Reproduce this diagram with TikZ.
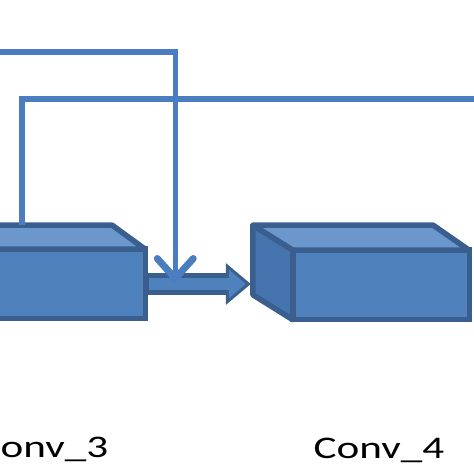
\documentclass[tikz,border=0pt]{standalone}
\usepackage{fontspec}
\setmainfont{Carlito}
\usetikzlibrary{positioning,calc,arrows.meta}

\definecolor{boxblue}{HTML}{4F81BD}
\definecolor{boxedge}{HTML}{3A5F8F}
\definecolor{boxtop}{HTML}{6C97CD}
\definecolor{boxside}{HTML}{4674AE}
\definecolor{wireblue}{HTML}{4A7EC0}

\begin{document}
\begin{tikzpicture}[
    x=1pt, y=1pt,
    front/.style={
        rectangle,
        draw=boxedge,
        fill=boxblue,
        line width=5.5pt,
        minimum width=176.5pt,
        minimum height=69.5pt,
        inner sep=0pt,
        outer sep=0pt
    },
    face/.style={
        draw=boxedge, fill=boxtop, line width=5.5pt, line join=round
    },
    sideface/.style={
        face, fill=boxside
    },
    pipe/.style={
        draw=boxedge, line width=22pt,
        -{Triangle[length=25pt,width=42pt,line width=0pt]}
    },
    pipecore/.style={
        draw=boxblue, line width=12pt, shorten <=4pt, shorten >=5pt,
        -{Triangle[length=17pt,width=29pt,line width=0pt]}
    },
    wire/.style={
        draw=wireblue, line width=5.5pt
    },
    lbl/.style={
        inner sep=0pt, outer sep=0pt, font=\fontsize{31.5}{36}\selectfont
    }
]
    \useasboundingbox (0,0) rectangle (474,474);
    \clip (0,0) rectangle (474,474);

    % Boxes
    \node [front] (conv3) at (57,190) {};
    \node [front] (conv4) at (381,189) {};

    \draw [face] (conv3.north west) -- (conv3.north east) -- ++(-33,24)
        -- ($(conv3.north west)+(-33,24)$) -- cycle;
    \draw [face] (conv4.north west) -- (conv4.north east) -- ++(-36,25)
        -- ($(conv4.north west)+(-40,25)$) -- cycle;
    \draw [sideface] (conv4.north west) -- (conv4.south west) -- ++(-40,25)
        -- ($(conv4.north west)+(-40,25)$) -- cycle;

    % Labels
    \node [lbl, below=118pt of conv3, xshift=-14pt] (name3) {\scalebox{1.37}[1]{Conv\_3}};
    \node [lbl, below=118pt of conv4, xshift=-2pt] (name4) {\scalebox{1.37}[1]{Conv\_4}};

    % Connectors
    \coordinate (in4) at ($(conv4.west)+(-42,1)$);
    \coordinate (merge) at ($(conv3.east)+(30,2)$);
    \coordinate (c3top) at ($(conv3.north)+(-35,24)$);
    \coordinate (srcA) at (-10,422);
    \coordinate (srcB) at (484,375);

    \draw [pipe] (conv3.east) -- (in4);
    \draw [pipecore] (conv3.east) -- (in4);

    \draw [wire] (srcB) -| (c3top);
    \draw [wire, -{Straight Barb[length=20pt,width=36pt,line width=7pt,round]}] (srcA) -| (merge);

\end{tikzpicture}
\end{document}
